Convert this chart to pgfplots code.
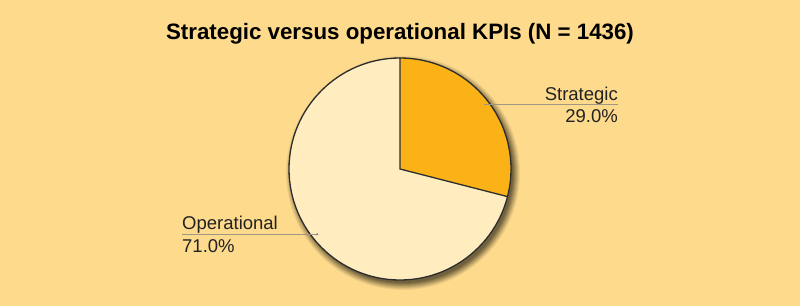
\documentclass[border=0pt]{standalone}
\usepackage{pgfplots}
\usepackage{pgfplotstable}
\pgfplotsset{compat=1.18}
\usepackage{fontspec}
\setmainfont{Liberation Sans}
\definecolor{bg}{RGB}{253,218,140}
\definecolor{strat}{RGB}{251,178,23}
\definecolor{oper}{RGB}{255,237,192}
\definecolor{edge}{RGB}{45,45,45}
\definecolor{txt}{RGB}{34,34,34}
\definecolor{lead}{RGB}{160,150,130}
\pgfplotstableread{
label value
Strategic 29.0
Operational 71.0
}\piedata
\begin{document}
\begin{tikzpicture}
\pgfplotstablegetelem{0}{value}\of\piedata \let\vA\pgfplotsretval
\pgfplotstablegetelem{1}{value}\of\piedata \let\vB\pgfplotsretval
\pgfmathsetmacro\aEnd{90-3.6*\vA}
\pgfmathsetmacro\bEnd{\aEnd-3.6*\vB}
\begin{axis}[x=1bp,y=1bp,xmin=0,xmax=800,ymin=0,ymax=306,hide axis,clip=false,scale only axis]
\fill[bg] (axis cs:0,0) rectangle (axis cs:800,306);
\coordinate (C) at (axis cs:400,137);
% shadow
\fill[black,opacity=0.05] ([shift={(3bp,-4bp)}]C) circle[radius=117bp];
\fill[black,opacity=0.07] ([shift={(3bp,-4bp)}]C) circle[radius=116bp];
\fill[black,opacity=0.08] ([shift={(3bp,-4bp)}]C) circle[radius=115bp];
\fill[black,opacity=0.09] ([shift={(3bp,-4bp)}]C) circle[radius=114bp];
\fill[black,opacity=0.10] ([shift={(3bp,-4bp)}]C) circle[radius=113bp];
\fill[black,opacity=0.11] ([shift={(3bp,-4bp)}]C) circle[radius=112bp];
\fill[black,opacity=0.12] ([shift={(3bp,-4bp)}]C) circle[radius=111bp];
\fill[black,opacity=0.12] ([shift={(3bp,-4bp)}]C) circle[radius=110bp];
\fill[strat] (C) -- ++(90:111bp) arc[start angle=90, end angle=\aEnd, radius=111bp] -- cycle;
\fill[oper] (C) -- ++(\aEnd:111bp) arc[start angle=\aEnd, end angle=\bEnd, radius=111bp] -- cycle;
\draw[edge,line width=1.3bp] (C) circle[radius=111bp];
\draw[edge,line width=1.3bp] ([shift={(90:111bp)}]C) -- (C) -- ([shift={(\aEnd:111bp)}]C);
% leaders
\draw[lead,line width=0.8bp] (axis cs:484,201.7) -- (axis cs:618,201.7);
\draw[lead,line width=0.8bp] (axis cs:317,71.7) -- (axis cs:182,71.7);
\fill[lead!80!gray] (axis cs:317,71.7) circle[radius=1.3bp];
\node[anchor=base east,inner sep=0pt,text=txt,font=\fontsize{18.5bp}{22bp}\selectfont] at (axis cs:618,205.3) {Strategic};
\node[anchor=base east,inner sep=0pt,text=txt,font=\fontsize{18.5bp}{22bp}\selectfont] at (axis cs:618,183.3) {29.0\%};
\node[anchor=base west,inner sep=0pt,text=txt,font=\fontsize{18.5bp}{22bp}\selectfont] at (axis cs:182,76.7) {Operational};
\node[anchor=base west,inner sep=0pt,text=txt,font=\fontsize{18.5bp}{22bp}\selectfont] at (axis cs:182,53.3) {71.0\%};
\node[anchor=base,inner sep=0pt,text=black,font=\bfseries\fontsize{22.3bp}{26bp}\selectfont] at (axis cs:400,266.7) {Strategic versus operational KPIs (N = 1436)};
\end{axis}
\end{tikzpicture}
\end{document}
